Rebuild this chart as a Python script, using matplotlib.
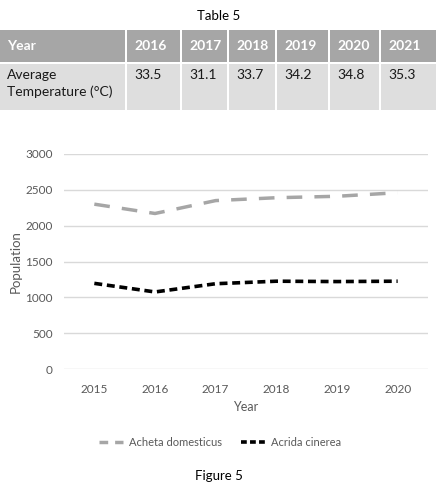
import matplotlib
matplotlib.use("Agg")
import matplotlib.pyplot as plt
from matplotlib.patches import Rectangle
from matplotlib.lines import Line2D

plt.rcParams['font.family'] = ['Lato', 'DejaVu Sans']

# ---- data ----
table_years = ["2016", "2017", "2018", "2019", "2020", "2021"]
avg_temp = ["33.5", "31.1", "33.7", "34.2", "34.8", "35.3"]

years = ["2015", "2016", "2017", "2018", "2019", "2020"]
acheta = [2300, 2170, 2350, 2390, 2410, 2460]
acrida = [1195, 1075, 1190, 1225, 1220, 1225]
yticks = [0, 500, 1000, 1500, 2000, 2500, 3000]

W, H = 440, 495
fig = plt.figure(figsize=(W / 100, H / 100), dpi=100)

# ---- table (pixel coordinate overlay) ----
tax = fig.add_axes([0, 0, 1, 1])
tax.set_xlim(0, W)
tax.set_ylim(H, 0)
tax.axis("off")

col_edges = [0, 127, 182, 229, 277, 330, 381, 438]
hdr_top, hdr_bot = 30, 62
row_top, row_bot = 64, 110
hdr_color = "#a6a6a6"
row_color = "#dedede"

tax.text(219, 16, "Table 5", ha="center", va="center", fontsize=9.5, color="#000000")
header = ["Year"] + table_years
row = ["Average\nTemperature (°C)"] + avg_temp
for i in range(len(header)):
    x0 = col_edges[i]
    w = col_edges[i + 1] - col_edges[i] - 2
    tax.add_patch(Rectangle((x0, hdr_top), w, hdr_bot - hdr_top, color=hdr_color, lw=0))
    tax.add_patch(Rectangle((x0, row_top), w, row_bot - row_top, color=row_color, lw=0))
    tax.text(x0 + 7, (hdr_top + hdr_bot) / 2, header[i], ha="left", va="center",
             fontsize=10, fontweight="bold", color="white")
    tax.text(x0 + 7, row_top + 5, row[i], ha="left", va="top",
             fontsize=10, color="#1a1a1a", linespacing=1.45)

# ---- chart ----
ax = fig.add_axes([64 / W, 1 - 369 / H, 364 / W, 215 / H])
x = list(range(len(years)))
ax.plot(x, acheta, color="#a6a6a6", lw=2.5, dashes=(4.5, 3.5), label="Acheta domesticus",
        dash_capstyle="butt")
ax.plot(x, acrida, color="#000000", lw=2.6, dashes=(2.2, 1.3), label="Acrida cinerea",
        dash_capstyle="butt")
ax.set_xlim(-0.5, len(years) - 0.5)
ax.set_ylim(0, 3000)
ax.set_yticks(yticks)
ax.set_yticklabels([str(v) for v in yticks])
ax.set_xticks(x)
ax.set_xticklabels(years)
ax.grid(axis="y", color="#d9d9d9", lw=1)
ax.set_axisbelow(True)
for s in ax.spines.values():
    s.set_visible(False)
ax.tick_params(axis="both", length=0, labelsize=8.5, colors="#595959")
ax.tick_params(axis="y", pad=8)
ax.tick_params(axis="x", pad=11)
ax.set_ylabel("Population", fontsize=9.5, color="#595959")
ax.yaxis.set_label_coords((22 - 64) / 364, 0.5)
ax.set_xlabel("Year", fontsize=9, color="#595959", labelpad=4)

handles = [Line2D([0], [0], color="#a6a6a6", lw=2.5, dashes=(2.5, 2.0)),
           Line2D([0], [0], color="#000000", lw=2.6, dashes=(1.6, 0.9))]
fig.legend(handles, ["Acheta domesticus", "Acrida cinerea"], loc="center",
           bbox_to_anchor=(220 / W, 1 - 442 / H), ncol=2, frameon=False,
           fontsize=8, labelcolor="#595959", handlelength=2.2, columnspacing=1.7,
           handletextpad=0.5)

fig.text(219 / W, 1 - 476 / H, "Figure 5", ha="center", va="center", fontsize=9.5,
         color="#000000")

fig.savefig("out.png", dpi=100)
